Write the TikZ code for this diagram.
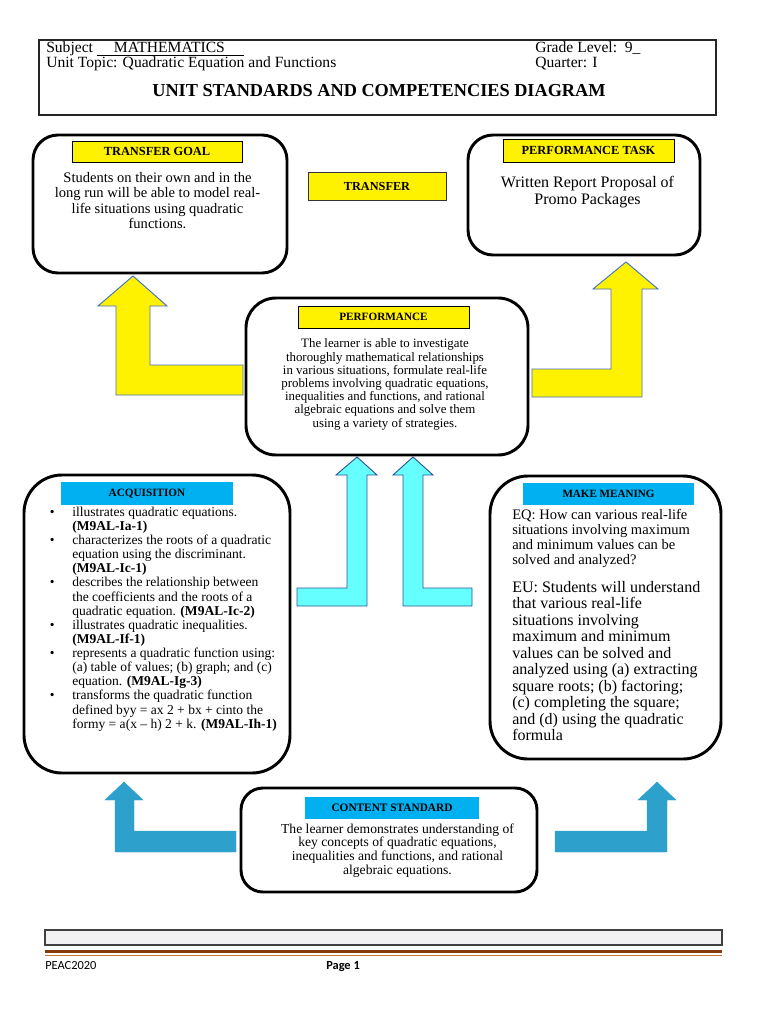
\documentclass[tikz,border=0pt]{standalone}
\usepackage{fontspec}
\setmainfont{Liberation Serif}
\newfontfamily\calibfont{Carlito}
\definecolor{lblcyan}{HTML}{00B0F0}
\definecolor{arrowedge}{HTML}{4472C4}
\definecolor{cyanfill}{HTML}{66FFFF}
\definecolor{cyanedge}{HTML}{2F5597}
\definecolor{bluearrow}{HTML}{2EA0CC}
\definecolor{darkbrown}{HTML}{843C0C}
\definecolor{lightbrown}{HTML}{C8763E}
\newcommand{\fsz}[2]{\fontsize{#1}{#2}\selectfont}
\newcommand{\bul}{\llap{\textbullet\hspace{13.2pt}}}
\tikzset{
  bigbox/.style={draw=black, line width=2.2pt, fill=white, inner sep=0pt},
  ylabel/.style={draw=black, line width=0.7pt, fill=yellow, inner sep=0pt, font=\bfseries},
  clabel/.style={fill=lblcyan, inner sep=0pt, font=\bfseries},
  body/.style={inner sep=0pt, align=center},
  lbody/.style={inner sep=0pt, align=left, anchor=west},
  hdrtext/.style={inner sep=0pt, anchor=base west, font=\fsz{11.7pt}{14pt}},
  yarrow/.style={fill=yellow, draw=arrowedge, line width=0.7pt, line join=miter},
  carrow/.style={fill=cyanfill, draw=cyanedge, line width=0.7pt, line join=miter},
  barrow/.style={fill=bluearrow, draw=bluearrow, line width=0.3pt, line join=miter},
}
\begin{document}
\begin{tikzpicture}[x=0.75pt,y=-0.75pt]
\useasboundingbox (0,0) rectangle (768,1024);
\fill[white] (0,0) rectangle (768,1024);

% ---------- header ----------
\node[draw=black!85, line width=1.1pt, minimum width=677*0.75pt, minimum height=75*0.75pt, inner sep=0pt] (hdr) at (377.5,77.5) {};
\node[hdrtext] (subj) at (46,53) {Subject \underline{\makebox[110.25pt][l]{\hspace{12.75pt}MATHEMATICS}}};
\node[hdrtext] (grade) at (535,53) {Grade Level:\ \ 9\_};
\node[hdrtext] (topic) at (46,67.5) {Unit Topic: Quadratic Equation and Functions};
\node[hdrtext] (quarter) at (535,67.5) {Quarter: I};
\node[inner sep=0pt, anchor=base, font=\bfseries\fsz{13.7pt}{16pt}] (title) at (379,97) {UNIT STANDARDS AND COMPETENCIES DIAGRAM};

% ---------- arrows ----------
\draw[yarrow] (133,276) -- (167,306) -- (150,306) -- (150,365) -- (243,365) -- (243,395) -- (116,395) -- (116,306) -- (98,306) -- cycle;
\draw[yarrow] (626,262) -- (658,289) -- (642,289) -- (642,397) -- (532,397) -- (532,369) -- (611,369) -- (611,289) -- (593,289) -- cycle;
\draw[carrow] (357,457) -- (377,475) -- (367,475) -- (367,606) -- (297,606) -- (297,588) -- (347,588) -- (347,475) -- (336,475) -- cycle;
\draw[carrow] (413,457) -- (433,475) -- (423,475) -- (423,588) -- (472,588) -- (472,606) -- (403,606) -- (403,475) -- (393,475) -- cycle;
\draw[barrow] (124,782) -- (143,800) -- (134,800) -- (134,831) -- (236,831) -- (236,852) -- (115,852) -- (115,800) -- (105,800) -- cycle;
\draw[barrow] (657,782) -- (676,800) -- (667,800) -- (667,852) -- (555,852) -- (555,831) -- (647,831) -- (647,800) -- (638,800) -- cycle;

% ---------- transfer goal ----------
\node[bigbox, rounded corners=25*0.75pt, minimum width=254*0.75pt, minimum height=138*0.75pt] (tg) at (160,204) {};
\node[ylabel, minimum width=170*0.75pt, minimum height=21*0.75pt, font=\bfseries\fsz{9.3pt}{11pt}] (tglbl) at (157,151.5) {TRANSFER GOAL};
\node[body, font=\fsz{10.9pt}{11.6pt}] (tgtxt) at (157.5,200.7) {Students on their own and in the\\long run will be able to model real-\\life situations using quadratic\\functions.};

% ---------- transfer ----------
\node[ylabel, draw=black!80, minimum width=138*0.75pt, minimum height=28*0.75pt, font=\bfseries\fsz{9.2pt}{11pt}] (transfer) at (377,186) {TRANSFER};

% ---------- performance task ----------
\node[bigbox, rounded corners=25*0.75pt, minimum width=232*0.75pt, minimum height=120*0.75pt] (pt) at (584,195) {};
\node[ylabel, minimum width=171*0.75pt, minimum height=23*0.75pt, font=\bfseries\fsz{9.3pt}{11pt}] (ptlbl) at (588.5,150.5) {PERFORMANCE TASK};
\node[body, font=\fsz{12pt}{13pt}] (pttxt) at (587.5,192) {Written Report Proposal of\\Promo Packages};

% ---------- performance ----------
\node[bigbox, rounded corners=30*0.75pt, minimum width=282*0.75pt, minimum height=157*0.75pt] (perf) at (387,376.5) {};
\node[ylabel, minimum width=171*0.75pt, minimum height=22*0.75pt, font=\bfseries\fsz{8.4pt}{10pt}] (perflbl) at (383.5,317) {PERFORMANCE};
\node[body, font=\fsz{9.65pt}{9.9pt}] (perftxt) at (385,384.5) {The learner is able to investigate\\thoroughly mathematical relationships\\in various situations, formulate real-life\\problems involving quadratic equations,\\inequalities and functions, and rational\\algebraic equations and solve them\\using a variety of strategies.};

% ---------- acquisition ----------
\node[bigbox, rounded corners=38*0.75pt, minimum width=266*0.75pt, minimum height=298*0.75pt] (acq) at (157,624) {};
\node[clabel, minimum width=172*0.75pt, minimum height=23*0.75pt, font=\bfseries\fsz{8.4pt}{10pt}] (acqlbl) at (147,493.5) {ACQUISITION};
\node[lbody, font=\fsz{10.15pt}{10.6pt}] (acqtxt) at (72,619) {\bul illustrates quadratic equations.\\
\textbf{(M9AL-Ia-1)}\\
\bul characterizes the roots of a quadratic\\
equation using the discriminant.\\
\textbf{(M9AL-Ic-1)}\\
\bul describes the relationship between\\
the coefficients and the roots of a\\
quadratic equation. \textbf{(M9AL-Ic-2)}\\
\bul illustrates quadratic inequalities.\\
\textbf{(M9AL-If-1)}\\
\bul represents a quadratic function using:\\
(a) table of values; (b) graph; and (c)\\
equation. \textbf{(M9AL-Ig-3)}\\
\bul transforms the quadratic function\\
defined byy = ax 2 + bx + cinto the\\
formy = a(x – h) 2 + k. \textbf{(M9AL-Ih-1)}};

% ---------- make meaning ----------
\node[bigbox, rounded corners=38*0.75pt, minimum width=231*0.75pt, minimum height=283*0.75pt] (mm) at (605.5,617.5) {};
\node[clabel, minimum width=171*0.75pt, minimum height=22*0.75pt, font=\bfseries\fsz{8.3pt}{10pt}] (mmlbl) at (608.5,494) {MAKE MEANING};
\node[lbody, font=\fsz{10.9pt}{11.3pt}] (eqtxt) at (512,538.5) {EQ: How can various real-life\\situations involving maximum\\and minimum values can be\\solved and analyzed?};
\node[lbody, font=\fsz{12pt}{12.4pt}] (eutxt) at (512,661) {EU: Students will understand\\that various real-life\\situations involving\\maximum and minimum\\values can be solved and\\analyzed using (a) extracting\\square roots; (b) factoring;\\(c) completing the square;\\and (d) using the quadratic\\formula};

% ---------- content standard ----------
\node[bigbox, rounded corners=22*0.75pt, minimum width=296*0.75pt, minimum height=104*0.75pt] (cs) at (389,840) {};
\node[clabel, minimum width=174*0.75pt, minimum height=22*0.75pt, font=\bfseries\fsz{8.5pt}{10pt}] (cslbl) at (392,808) {CONTENT STANDARD};
\node[body, font=\fsz{10.2pt}{10.25pt}] (cstxt) at (397.5,850.5) {The learner demonstrates understanding of\\key concepts of quadratic equations,\\inequalities and functions, and rational\\algebraic equations.};

% ---------- footer ----------
\node[draw=black!75, line width=0.8pt, fill=black!5, minimum width=677*0.75pt, minimum height=15*0.75pt, inner sep=0pt] (fbox) at (383.5,937.5) {};
\draw[line width=2.2pt, darkbrown] (45,951.5) -- (722,951.5);
\draw[line width=0.8pt, lightbrown] (45,955.5) -- (722,955.5);
\node[inner sep=0pt, anchor=base west, font=\calibfont\fsz{9.3pt}{11pt}] (peac) at (45,969) {PEAC2020};
\node[inner sep=0pt, anchor=base west, font=\calibfont\bfseries\fsz{9.3pt}{11pt}] (page) at (326,969) {Page 1};
\end{tikzpicture}
\end{document}
